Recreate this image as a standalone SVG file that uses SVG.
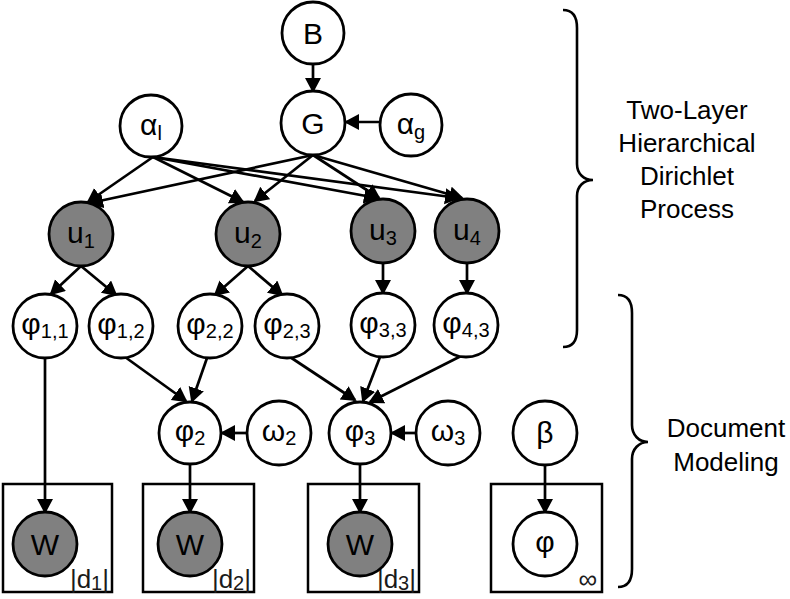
<svg xmlns="http://www.w3.org/2000/svg" width="790" height="599" viewBox="0 0 790 599">
<style>
.n{fill:#fff;stroke:#000;stroke-width:2.8}
.o{fill:#808080;stroke:#000;stroke-width:2.8}
.t{font-family:"Liberation Sans",Arial,sans-serif;font-size:30px;text-anchor:middle;fill:#000}
.s{font-size:20px}
.e line{stroke:#000;stroke-width:2.7;marker-end:url(#ah)}
.p{fill:none;stroke:#000;stroke-width:2.5}
.pl{font-family:"Liberation Sans",Arial,sans-serif;font-size:26px;text-anchor:end;fill:#1a1a1a}
.br{fill:none;stroke:#000;stroke-width:2.6}
.lb{font-family:"Liberation Sans",Arial,sans-serif;font-size:26px;text-anchor:middle;fill:#000}
</style>
<defs>
<marker id="ah" markerUnits="userSpaceOnUse" markerWidth="17" markerHeight="17" refX="13" refY="8" orient="auto">
<path d="M0,0 L15,8 L0,16 z" fill="#000"/>
</marker>
</defs>
<g id="plates">
<rect class="p" x="3" y="484" width="109" height="108"/>
<rect class="p" x="143" y="484" width="111" height="108"/>
<rect class="p" x="308" y="484" width="111" height="108"/>
<rect class="p" x="491" y="484" width="111" height="108"/>
<text class="pl" x="109" y="588">|d<tspan class="s" dy="2">1</tspan><tspan dy="-2">|</tspan></text>
<text class="pl" x="251" y="588">|d<tspan class="s" dy="2">2</tspan><tspan dy="-2">|</tspan></text>
<text class="pl" x="416" y="588">|d<tspan class="s" dy="2">3</tspan><tspan dy="-2">|</tspan></text>
<text class="pl" x="597" y="588" font-size="24">∞</text>
</g>
<g id="connectors" class="e">
<line x1="313" y1="64" x2="313" y2="91"/>
<line x1="380" y1="122" x2="346" y2="122"/>
<line x1="153" y1="157" x2="88" y2="202"/>
<line x1="153" y1="157" x2="243" y2="202"/>
<line x1="153" y1="157" x2="377" y2="198"/>
<line x1="153" y1="157" x2="458" y2="198"/>
<line x1="313" y1="155" x2="90" y2="203"/>
<line x1="313" y1="155" x2="255" y2="201"/>
<line x1="313" y1="155" x2="379" y2="198"/>
<line x1="313" y1="155" x2="462" y2="198"/>
<line x1="81" y1="266" x2="51" y2="294"/>
<line x1="81" y1="266" x2="116" y2="295"/>
<line x1="248" y1="266" x2="215" y2="295"/>
<line x1="248" y1="266" x2="282" y2="295"/>
<line x1="383" y1="263" x2="383" y2="293"/>
<line x1="467" y1="263" x2="467" y2="293"/>
<line x1="45" y1="358" x2="45" y2="512"/>
<line x1="125" y1="357" x2="186" y2="401"/>
<line x1="207" y1="358" x2="192" y2="401"/>
<line x1="290" y1="357" x2="355" y2="400"/>
<line x1="380" y1="357" x2="363" y2="401"/>
<line x1="463" y1="355" x2="370" y2="402"/>
<line x1="247" y1="433" x2="222" y2="433"/>
<line x1="416" y1="433" x2="392" y2="433"/>
<line x1="190" y1="464" x2="190" y2="512"/>
<line x1="360" y1="464" x2="360" y2="512"/>
<line x1="545" y1="465" x2="545" y2="512"/>
</g>
<g id="B"><circle class="n" cx="313" cy="33" r="31"/><text class="t" x="313" y="44">B</text></g>
<g id="G"><circle class="n" cx="313" cy="123" r="32"/><text class="t" x="313" y="134">G</text></g>
<g id="alpha_l"><circle class="n" cx="151" cy="126" r="31"/><text class="t" x="151" y="135">α<tspan class="s" dy="5">l</tspan></text></g>
<g id="alpha_g"><circle class="n" cx="411" cy="125" r="31"/><text class="t" x="411" y="134">α<tspan class="s" dy="5">g</tspan></text></g>
<g id="u1"><circle class="o" cx="81" cy="234" r="32"/><text class="t" x="81" y="243">u<tspan class="s" dy="5">1</tspan></text></g>
<g id="u2"><circle class="o" cx="248" cy="234" r="32"/><text class="t" x="248" y="243">u<tspan class="s" dy="5">2</tspan></text></g>
<g id="u3"><circle class="o" cx="383" cy="231" r="32"/><text class="t" x="383" y="240">u<tspan class="s" dy="5">3</tspan></text></g>
<g id="u4"><circle class="o" cx="467" cy="231" r="32"/><text class="t" x="467" y="240">u<tspan class="s" dy="5">4</tspan></text></g>
<g id="phi11"><circle class="n" cx="45" cy="326" r="32"/><text class="t" x="45" y="334">φ<tspan class="s" dy="4">1,1</tspan></text></g>
<g id="phi12"><circle class="n" cx="121" cy="326" r="32"/><text class="t" x="121" y="334">φ<tspan class="s" dy="4">1,2</tspan></text></g>
<g id="phi22"><circle class="n" cx="210" cy="326" r="32"/><text class="t" x="210" y="334">φ<tspan class="s" dy="4">2,2</tspan></text></g>
<g id="phi23"><circle class="n" cx="287" cy="326" r="32"/><text class="t" x="287" y="334">φ<tspan class="s" dy="4">2,3</tspan></text></g>
<g id="phi33"><circle class="n" cx="383" cy="325" r="32"/><text class="t" x="383" y="333">φ<tspan class="s" dy="4">3,3</tspan></text></g>
<g id="phi43"><circle class="n" cx="466" cy="325" r="32"/><text class="t" x="466" y="333">φ<tspan class="s" dy="4">4,3</tspan></text></g>
<g id="phi2"><circle class="n" cx="190" cy="433" r="31"/><text class="t" x="190" y="441">φ<tspan class="s" dy="4">2</tspan></text></g>
<g id="omega2"><circle class="n" cx="279" cy="433" r="32"/><text class="t" x="279" y="441">ω<tspan class="s" dy="4">2</tspan></text></g>
<g id="phi3"><circle class="n" cx="360" cy="433" r="31"/><text class="t" x="360" y="441">φ<tspan class="s" dy="4">3</tspan></text></g>
<g id="omega3"><circle class="n" cx="448" cy="433" r="32"/><text class="t" x="448" y="441">ω<tspan class="s" dy="4">3</tspan></text></g>
<g id="beta"><circle class="n" cx="545" cy="433" r="32"/><text class="t" x="545" y="443">β</text></g>
<g id="W1"><circle class="o" cx="45" cy="544" r="32"/><text class="t" x="45" y="555">W</text></g>
<g id="W2"><circle class="o" cx="190" cy="544" r="32"/><text class="t" x="190" y="555">W</text></g>
<g id="W3"><circle class="o" cx="360" cy="544" r="32"/><text class="t" x="360" y="555">W</text></g>
<g id="phi"><circle class="n" cx="545" cy="544" r="32"/><text class="t" x="545" y="552">φ</text></g>
<g id="braces">
<path class="br" d="M563,10 C572,10 577,16 577,28 L577,164 C577,174 584,180 593,180 C584,180 577,186 577,196 L577,330 C577,342 572,347 563,347"/>
<path class="br" d="M618,295 C627,295 632,301 632,313 L632,425 C632,435 639,442 648,442 C639,442 632,449 632,459 L632,569 C632,581 627,587 618,587"/>
<text class="lb" x="687" y="119">Two-Layer</text>
<text class="lb" x="687" y="152">Hierarchical</text>
<text class="lb" x="687" y="185">Dirichlet</text>
<text class="lb" x="687" y="218">Process</text>
<text class="lb" x="726" y="437">Document</text>
<text class="lb" x="726" y="471">Modeling</text>
</g>
</svg>
